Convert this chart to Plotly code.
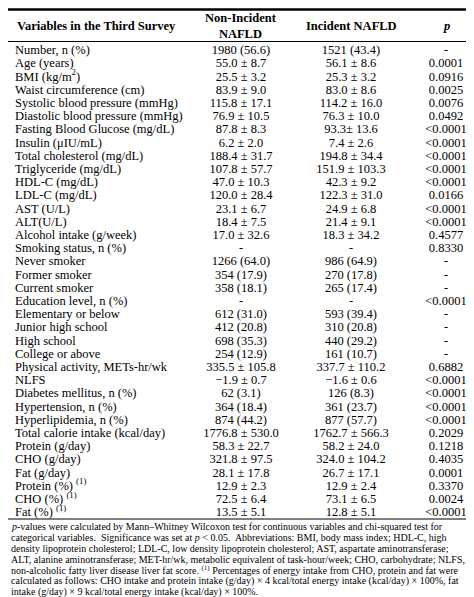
import plotly.graph_objects as go

labels = ["Number, n (%)", "Age (years)", "BMI (kg/m<sup>2</sup>)", "Waist circumference (cm)",
          "Systolic blood pressure (mmHg)", "Diastolic blood pressure (mmHg)",
          "Fasting Blood Glucose (mg/dL)", "Insulin (μIU/mL)", "Total cholesterol (mg/dL)",
          "Triglyceride (mg/dL)", "HDL-C (mg/dL)", "LDL-C (mg/dL)", "AST (U/L)", "ALT(U/L)",
          "Alcohol intake (g/week)", "Smoking status, n (%)", "Never smoker", "Former smoker",
          "Current smoker", "Education level, n (%)", "Elementary or below", "Junior high school",
          "High school", "College or above", "Physical activity, METs-hr/wk", "NLFS",
          "Diabetes mellitus, n (%)", "Hypertension, n (%)", "Hyperlipidemia, n (%)",
          "Total calorie intake (kcal/day)", "Protein (g/day)", "CHO (g/day)", "Fat (g/day)",
          "Protein (%) <sup>(1)</sup>", "CHO (%) <sup>(1)</sup>", "Fat (%) <sup>(1)</sup>"]
non_incident = ["1980 (56.6)", "55.0 ± 8.7", "25.5 ± 3.2", "83.9 ± 9.0", "115.8 ± 17.1",
                "76.9 ± 10.5", "87.8 ± 8.3", "6.2 ± 2.0", "188.4 ± 31.7", "107.8 ± 57.7",
                "47.0 ± 10.3", "120.0 ± 28.4", "23.1 ± 6.7", "18.4 ± 7.5", "17.0 ± 32.6", "-",
                "1266 (64.0)", "354 (17.9)", "358 (18.1)", "-", "612 (31.0)", "412 (20.8)",
                "698 (35.3)", "254 (12.9)", "335.5 ± 105.8", "−1.9 ± 0.7", "62 (3.1)",
                "364 (18.4)", "874 (44.2)", "1776.8 ± 530.0", "58.3 ± 22.7", "321.8 ± 97.5",
                "28.1 ± 17.8", "12.9 ± 2.3", "72.5 ± 6.4", "13.5 ± 5.1"]
incident = ["1521 (43.4)", "56.1 ± 8.6", "25.3 ± 3.2", "83.0 ± 8.6", "114.2 ± 16.0",
            "76.3 ± 10.0", "93.3± 13.6", "7.4 ± 2.6", "194.8 ± 34.4", "151.9 ± 103.3",
            "42.3 ± 9.2", "122.3 ± 31.0", "24.9 ± 6.8", "21.4 ± 9.1", "18.3 ± 34.2", "-",
            "986 (64.9)", "270 (17.8)", "265 (17.4)", "-", "593 (39.4)", "310 (20.8)",
            "440 (29.2)", "161 (10.7)", "337.7 ± 110.2", "−1.6 ± 0.6", "126 (8.3)",
            "361 (23.7)", "877 (57.7)", "1762.7 ± 566.3", "58.2 ± 24.0", "324.0 ± 104.2",
            "26.7 ± 17.1", "12.9 ± 2.4", "73.1 ± 6.5", "12.8 ± 5.1"]
p_values = ["-", "0.0001", "0.0916", "0.0025", "0.0076", "0.0492", "<0.0001", "<0.0001",
            "<0.0001", "<0.0001", "<0.0001", "0.0166", "<0.0001", "<0.0001", "0.4577", "0.8330",
            "-", "-", "-", "<0.0001", "-", "-", "-", "-", "0.6882", "<0.0001", "<0.0001",
            "<0.0001", "<0.0001", "0.2029", "0.1218", "0.4035", "0.0001", "0.3370", "0.0024",
            "<0.0001"]
headers = ["<b>Variables in the Third Survey</b>", "<b>Non-Incident<br>NAFLD</b>",
           "<b>Incident NAFLD</b>", "<b><i>p</i></b>"]
footnote = [
    "<i>p</i>-values were calculated by Mann–Whitney Wilcoxon test for continuous variables and chi-squared test for",
    "categorical variables.  Significance was set at <i>p</i> < 0.05.  Abbreviations: BMI, body mass index; HDL-C, high",
    "density lipoprotein cholesterol; LDL-C, low density lipoprotein cholesterol; AST, aspartate aminotransferase;",
    "ALT, alanine aminotransferase; MET-hr/wk, metabolic equivalent of task-hour/week; CHO, carbohydrate; NLFS,",
    "non-alcoholic fatty liver disease liver fat score. <sup>(1)</sup> Percentages of energy intake from CHO, protein and fat were",
    "calculated as follows: CHO intake and protein intake (g/day) × 4 kcal/total energy intake (kcal/day) × 100%, fat",
    "intake (g/day) × 9 kcal/total energy intake (kcal/day) × 100%.",
]

W, H = 474, 597
FONT = "Liberation Serif"
rows = list(range(len(labels)))
fig = go.Figure()
for xpos, vals, pos in [(7, labels, "middle right"), (233, non_incident, "middle center"),
                        (343, incident, "middle center"), (438, p_values, "middle center")]:
    fig.add_trace(go.Scatter(x=[xpos] * len(vals), y=rows, mode="text", text=vals,
                             textposition=pos, textfont=dict(family=FONT, size=12.5, color="black"),
                             hoverinfo="skip", showlegend=False))

y0, dy = 43, 13.2
fig.update_xaxes(range=[0, W], visible=False)
fig.update_yaxes(range=[(H - y0) / dy, -y0 / dy], visible=False)

def py(p):
    return 1 - p / H

ann = []
for xp, t in zip([7, 233, 343, 438], headers):
    ann.append(dict(x=xp / W, y=py(18), xref="paper", yref="paper", text=t, showarrow=False,
                    xanchor="left" if xp == 7 else "center", yanchor="middle",
                    font=dict(family=FONT, size=12.5, color="black")))
for i, line in enumerate(footnote):
    ann.append(dict(x=1 / W, y=py(518 + i * 11), xref="paper", yref="paper", text=line,
                    showarrow=False, xanchor="left", yanchor="middle",
                    font=dict(family=FONT, size=10, color="black")))
shapes = []
for yy, wdt in [(1.5, 2.5), (33.5, 1), (511, 1)]:
    shapes.append(dict(type="line", xref="paper", yref="paper", x0=0, x1=1, y0=py(yy), y1=py(yy),
                       line=dict(color="black", width=wdt)))
fig.update_layout(width=W, height=H, margin=dict(l=0, r=0, t=0, b=0), plot_bgcolor="white",
                  paper_bgcolor="white", annotations=ann, shapes=shapes)
fig.write_html("out.html")
